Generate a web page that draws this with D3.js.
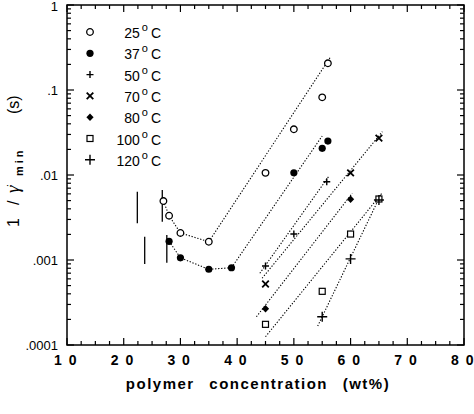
<!DOCTYPE html>
<html>
<head>
<meta charset="utf-8">
<script src="https://cdn.jsdelivr.net/npm/d3@7"></script>
<style>
  body { margin: 0; background: #fff; }
  svg { font-family: "Liberation Sans", Arial, sans-serif; }
</style>
</head>
<body>
<svg id="chart" width="474" height="414"></svg>
<script>
// Data
var temps = ["25", "37", "50", "70", "80", "100", "120"];
var symbols = ["openCircle", "filledCircle", "smallPlus", "cross", "diamond", "openSquare", "bigPlus"];

var conc25 = [27, 28, 30, 35, 45, 50, 55, 56];
var tau25 = [0.00494, 0.00332, 0.00208, 0.00164, 0.0106, 0.0345, 0.082, 0.206];
var conc37 = [28, 30, 35, 39, 50, 55, 56];
var tau37 = [0.00166, 0.00106, 0.000778, 0.000811, 0.0106, 0.0206, 0.0251];
var conc50 = [45, 50, 55.8];
var tau50 = [0.00085, 0.00202, 0.00834];
var conc70 = [45, 60, 65];
var tau70 = [0.000522, 0.0106, 0.0272];
var conc80 = [45, 60];
var tau80 = [0.000267, 0.00518];
var conc100 = [45, 55, 60, 65];
var tau100 = [0.000175, 0.000428, 0.00202, 0.00522];
var conc120 = [55, 60, 65];
var tau120 = [0.000215, 0.00103, 0.00508];

// dotted curves joining the low concentration points
var lowCurves = [
  [[27, 0.00494], [28, 0.00332], [30, 0.00208], [35, 0.00164]],
  [[28, 0.00166], [30, 0.00106], [35, 0.000778], [39, 0.000811]]
];
// dotted straight fit lines
var fitLines = [
  [[35, 0.00164], [56.5, 0.247]],
  [[39, 0.000811], [55.0, 0.0288]],
  [[44.0, 0.000698], [56.2, 0.00973]],
  [[44.4, 0.00061], [65.6, 0.0323]],
  [[43.4, 0.000215], [60.3, 0.0061]],
  [[45.0, 0.000125], [65.6, 0.0062]],
  [[54.2, 0.000167], [65.3, 0.00582]]
];
// solid vertical bars
var bars = [
  [22.4, 0.00636, 0.0027],
  [26.8, 0.00666, 0.00282],
  [23.7, 0.00188, 0.000897],
  [27.6, 0.00197, 0.00093]
];

var xTicks = [10, 20, 30, 40, 50, 60, 70, 80];
var yTicks = [1, 0.1, 0.01, 0.001, 0.0001];
var yTickLabels = ["1", ".1", ".01", ".001", ".0001"];

var series = [
  {conc: conc25, tau: tau25},
  {conc: conc37, tau: tau37},
  {conc: conc50, tau: tau50},
  {conc: conc70, tau: tau70},
  {conc: conc80, tau: tau80},
  {conc: conc100, tau: tau100},
  {conc: conc120, tau: tau120}
];

var margin = {top: 5, right: 10, bottom: 69, left: 67},
    width = 464 - margin.left,
    height = 345 - margin.top;

var svg = d3.select("#chart")
  .append("g")
  .attr("transform", "translate(" + margin.left + "," + margin.top + ")");

var x = d3.scaleLinear().domain([10, 80]).range([0, width]);
var y = d3.scaleLog().domain([0.0001, 1]).range([height, 0]);

// minor ticks
var xMinor = d3.range(10, 80.01, 2.5).filter(function(v) { return v % 10 !== 0; });
var yMinor = [];
[0.0001, 0.001, 0.01, 0.1].forEach(function(d) {
  for (var k = 2; k <= 9; k++) yMinor.push(d * k);
});

function tickLines(g, vals, isX, len) {
  vals.forEach(function(v) {
    if (isX) {
      g.append("line").attr("x1", x(v)).attr("x2", x(v)).attr("y1", height).attr("y2", height - len);
      g.append("line").attr("x1", x(v)).attr("x2", x(v)).attr("y1", 0).attr("y2", len);
    } else {
      g.append("line").attr("y1", y(v)).attr("y2", y(v)).attr("x1", 0).attr("x2", len);
      g.append("line").attr("y1", y(v)).attr("y2", y(v)).attr("x1", width).attr("x2", width - len);
    }
  });
}

var ticks = svg.append("g").attr("stroke", "#000").attr("stroke-width", 1.2);
tickLines(ticks, xTicks, true, 7);
tickLines(ticks, xMinor, true, 4);
tickLines(ticks, yTicks, false, 7);
tickLines(ticks, yMinor, false, 4);

// frame
svg.append("rect")
  .attr("width", width).attr("height", height)
  .attr("fill", "none").attr("stroke", "#000").attr("stroke-width", 1.5);

// tick labels
svg.selectAll(".xlab")
  .data(xTicks)
  .enter().append("text")
  .attr("x", function(d) { return x(d) - 1; })
  .attr("y", height + 20)
  .attr("text-anchor", "middle")
  .style("font-size", "14px")
  .style("font-weight", "bold")
  .style("letter-spacing", "1.5px")
  .text(function(d) { return String(d).split("").join(" "); });

svg.selectAll(".ylab")
  .data(yTicks)
  .enter().append("text")
  .attr("x", -9)
  .attr("y", function(d) { return Math.max(y(d) + 5, 6); })
  .attr("text-anchor", "end")
  .style("font-size", "13px")
  .text(function(d, i) { return yTickLabels[i]; });

// axis titles
svg.append("text")
  .attr("x", 191)
  .attr("y", height + 44)
  .attr("text-anchor", "middle")
  .style("font-size", "15px")
  .style("font-weight", "bold")
  .style("letter-spacing", "1.5px")
  .style("word-spacing", "9px")
  .text("polymer concentration (wt%)");

var yt = d3.select("#chart").append("text")
  .attr("transform", "translate(19,227) rotate(-90)")
  .attr("text-anchor", "start")
  .style("font-size", "16px");
yt.append("tspan").attr("x", 0).text("1");
yt.append("tspan").attr("x", 22).text("/");
yt.append("tspan").attr("x", 34)
  .style("font-family", "'Liberation Serif', 'DejaVu Serif', serif")
  .style("font-style", "italic").style("font-size", "19px").text("γ");
// dot above gamma
yt.append("tspan").attr("x", 40).attr("dy", -3).style("font-size", "12px").text("˙");
yt.append("tspan").attr("x", 51).attr("dy", 7).style("font-size", "11px").style("font-weight", "bold")
  .style("letter-spacing", "3px").text("min");
yt.append("tspan").attr("x", 113).attr("dy", -4).text("(s)");

// dotted lines
var line = d3.line()
  .x(function(d) { return x(d[0]); })
  .y(function(d) { return y(d[1]); });

svg.selectAll(".curve")
  .data(lowCurves.concat(fitLines))
  .enter().append("path")
  .attr("d", line)
  .attr("fill", "none")
  .attr("stroke", "#000")
  .attr("stroke-width", 1.1)
  .attr("stroke-dasharray", "1.3,1.7");

svg.selectAll(".bar")
  .data(bars)
  .enter().append("line")
  .attr("x1", function(d) { return x(d[0]); })
  .attr("x2", function(d) { return x(d[0]); })
  .attr("y1", function(d) { return y(d[1]); })
  .attr("y2", function(d) { return y(d[2]); })
  .attr("stroke", "#000")
  .attr("stroke-width", 1.3);

// symbols
function drawSymbol(g, kind) {
  switch (kind) {
    case "openCircle":
      g.append("circle").attr("r", 3.3).attr("fill", "#fff").attr("stroke", "#000").attr("stroke-width", 1.3);
      break;
    case "filledCircle":
      g.append("circle").attr("r", 3.6).attr("fill", "#000");
      break;
    case "smallPlus":
      g.append("path").attr("d", "M-3.5,0H3.5M0,-3.5V3.5").attr("stroke", "#000").attr("stroke-width", 1.4);
      break;
    case "cross":
      g.append("path").attr("d", "M-3.3,-3.3L3.3,3.3M-3.3,3.3L3.3,-3.3").attr("stroke", "#000").attr("stroke-width", 1.8);
      break;
    case "diamond":
      g.append("path").attr("d", "M0,-3.8L3.6,0L0,3.8L-3.6,0Z").attr("fill", "#000");
      break;
    case "openSquare":
      g.append("rect").attr("x", -3).attr("y", -3).attr("width", 6).attr("height", 6)
        .attr("fill", "#fff").attr("stroke", "#000").attr("stroke-width", 1.2);
      break;
    case "bigPlus":
      g.append("path").attr("d", "M-5,0H5M0,-5V5").attr("stroke", "#000").attr("stroke-width", 1.4);
      break;
  }
}

series.forEach(function(s, i) {
  s.conc.forEach(function(c, j) {
    var g = svg.append("g").attr("transform", "translate(" + x(c) + "," + y(s.tau[j]) + ")");
    drawSymbol(g, symbols[i]);
  });
});

// legend
var legend = svg.selectAll(".legend")
  .data(temps)
  .enter().append("g")
  .attr("class", "legend")
  .attr("transform", function(d, i) { return "translate(23," + (27 + i * 21.3) + ")"; });

legend.each(function(d, i) { drawSymbol(d3.select(this), symbols[i]); });

var lt = legend.append("text")
  .attr("x", 71)
  .attr("y", 6)
  .attr("text-anchor", "end")
  .style("font-size", "14px");
lt.append("tspan").text(function(d) { return d; });
lt.append("tspan").attr("dx", 2).attr("dy", -7).style("font-size", "11px").text("o");
lt.append("tspan").attr("dx", 3).attr("dy", 7).text("C");
</script>
</body>
</html>
